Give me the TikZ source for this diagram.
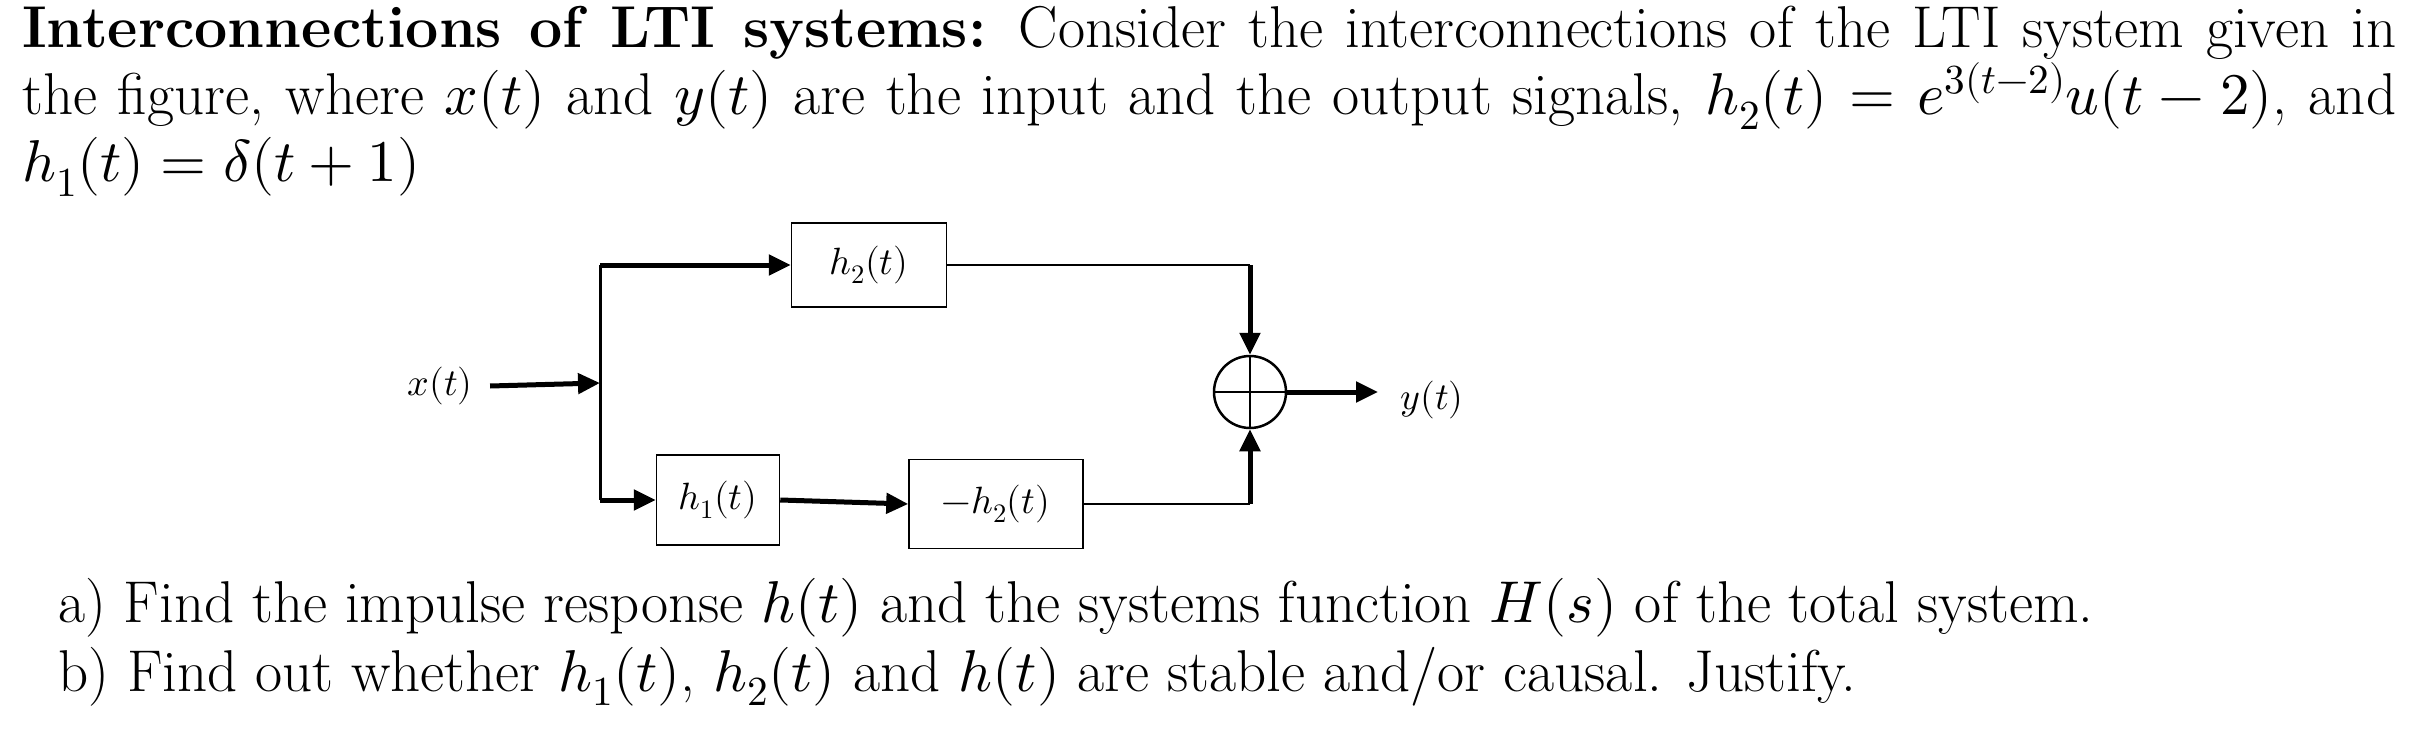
\documentclass[tikz,border=0pt]{standalone}
\usepackage{unicode-math}
\usetikzlibrary{arrows.meta}
\begin{document}
\begin{tikzpicture}[x=1pt,y=1pt,
  blk/.style={draw,line width=1.5pt,minimum width=#1,minimum height=88pt,inner sep=0pt,font=\fontsize{38}{40}\selectfont},
  thk/.style={line width=5pt,-{Triangle[length=22pt,width=20pt]}},
  thn/.style={line width=2pt}]
\useasboundingbox (0,0) rectangle (2416,-730);
\node[anchor=north west,inner sep=0pt] (txt) at (22,-6) {\begin{minipage}{2374pt}\fontsize{59}{67}\selectfont
\textbf{Interconnections of LTI systems:} Consider the interconnections of the LTI system given in\linebreak the figure, where $x(t)$ and $y(t)$ are the input and the output signals, $h_2(t)=e^{3(t-2)}u(t-2)$, and\linebreak $h_1(t)=\delta(t+1)$\end{minipage}};
\node[blk=155pt,minimum height=84pt] (b2) at (869,-265) {$h_2(t)$};
\node[blk=123pt,minimum height=90pt] (b1) at (718,-500) {$h_1(t)$};
\node[blk=174pt,minimum height=89pt] (b3) at (996,-504) {$-h_2(t)$};
\node[draw,circle,line width=2.5pt,minimum size=72pt,inner sep=0pt] (s) at (1250,-392) {};
\draw[line width=2.5pt] (s.west)--(s.east) (s.north)--(s.south);
\node[font=\fontsize{38}{40}\selectfont] (x) at (440,-386) {$x(t)$};
\node[font=\fontsize{38}{40}\selectfont] (y) at (1432,-400) {$y(t)$};
\coordinate (j) at (600,-383);
\coordinate (jt) at (600,-265);
\coordinate (jb) at (600,-500);
\coordinate (ye) at (1378,-392);
\draw[thk] (x.east)++(14,0) -- (j);
\draw[line width=3pt] (jt)--(jb);
\draw[thk] (jt)--(b2.west);
\draw[thk] (jb)--(b1.west);
\draw[thk] (b1.east)--(b3.west);
\draw[thn] (b2.east)--(s.north |- b2.east);
\draw[thk] (s.north |- b2.east)--(s.north);
\draw[thn] (b3.east)--(s.south |- b3.east);
\draw[thk] (s.south |- b3.east)--(s.south);
\draw[thk] (s.east)--(ye);
\node[anchor=north west,inner sep=0pt] (qs) at (58,-578) {\begin{minipage}{2340pt}\fontsize{59}{69}\selectfont
a) Find the impulse response $h(t)$ and the systems function $H(s)$ of the total system.\\
b) Find out whether $h_1(t)$, $h_2(t)$ and $h(t)$ are stable and/or causal. Justify.\end{minipage}};
\end{tikzpicture}
\end{document}
